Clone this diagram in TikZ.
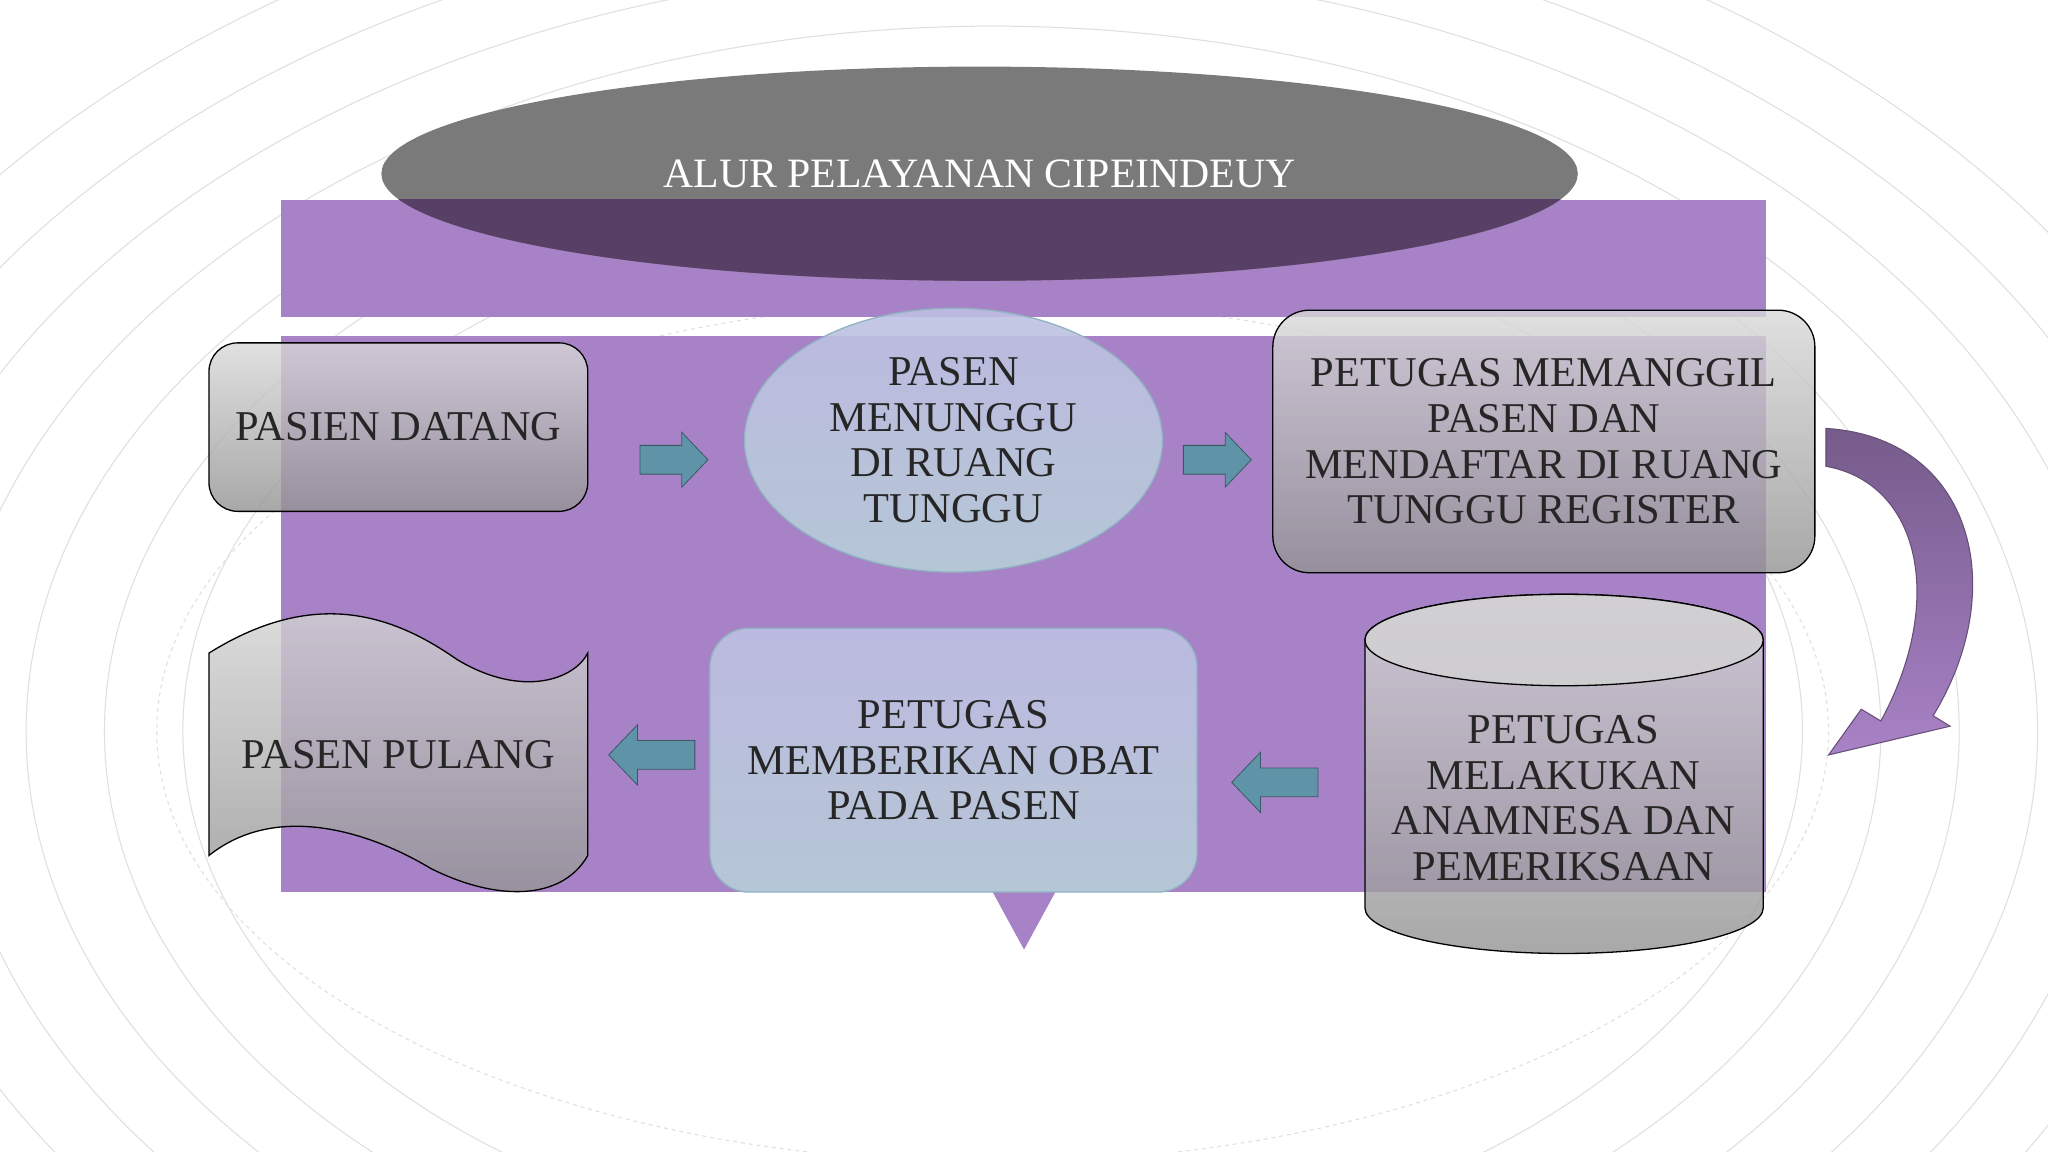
\documentclass[tikz,border=0pt]{standalone}
\usepackage{fontspec}
\setmainfont{Liberation Serif}
\usetikzlibrary{shapes.geometric}
\definecolor{purp}{HTML}{A882C6}
\definecolor{steel}{HTML}{5F93A8}
\definecolor{lav}{HTML}{B7B9E0}
\definecolor{dpurp}{HTML}{583F66}
\tikzset{
 txt/.style={font=\fontsize{32.5}{35}\selectfont,align=center,text=black!85},
 graybox/.style={draw=black,line width=1pt,top color=gray!30,bottom color=gray!85,fill opacity=0.8,text opacity=1},
 bluebox/.style={draw=steel!70,line width=1pt,top color=lav!90,bottom color=steel!45,fill opacity=0.9,text opacity=1},
 barrow/.style={fill=steel,draw=steel!60!black,line width=0.6pt},
 bgline/.style={gray!25,line width=0.8pt}
}
\newcommand{\rarrow}[2]{\path[barrow] (#1,#2) ++(-26,-11) -- ++(32,0) -- ++(0,-10) -- ++(20,21) -- ++(-20,21) -- ++(0,-10) -- ++(-32,0) -- cycle;}
\newcommand{\larrow}[2]{\path[barrow] (#1,#2) ++(33,-11) -- ++(-44,0) -- ++(0,-12) -- ++(-22,23) -- ++(22,23) -- ++(0,-12) -- ++(44,0) -- cycle;}
\begin{document}
\begin{tikzpicture}[x=1pt,y=-1pt]
\useasboundingbox (0,0) rectangle (1568,882);
\fill[white] (0,0) rectangle (1568,882);
\foreach \r in {1,2,...,7}{
 \draw[bgline] (760,560) ellipse ({560+60*\r} and {360+45*\r});
}
\draw[bgline,dashed] (760,560) ellipse (640 and 330);
\fill[purp] (215,153) rectangle (1352,243);
\fill[purp] (215,257) rectangle (1352,683);
\fill[purp] (760,683) -- (808,683) -- (784,727) -- cycle;
\node[ellipse,fill=black!52,minimum width=916pt,minimum height=164pt] (title) at (750,133) {};
\begin{scope}
\clip (215,153) rectangle (1352,243);
\fill[dpurp] (750,133) ellipse (458 and 82);
\end{scope}
\node[font=\fontsize{32}{34}\selectfont,text=white] (tt) at (750,133) {ALUR PELAYANAN CIPEINDEUY};
\node[graybox,rounded corners=22pt,minimum width=290pt,minimum height=129pt,txt] (a) at (305,327) {PASIEN DATANG};
\node[bluebox,ellipse,minimum width=320pt,minimum height=202pt,inner sep=0pt,txt] (b) at (730,337) {PASEN\\MENUNGGU\\DI RUANG\\TUNGGU};
\node[graybox,rounded corners=28pt,minimum width=415pt,minimum height=201pt,txt] (c) at (1182,338) {PETUGAS MEMANGGIL\\PASEN DAN\\MENDAFTAR DI RUANG\\TUNGGU REGISTER};
\path[graybox] (1045,490) -- (1045,695) arc[start angle=180,end angle=0,x radius=152.5,y radius=35] -- (1350,490) arc[start angle=0,end angle=-180,x radius=152.5,y radius=35] -- cycle;
\draw[line width=1pt,fill=gray!35,fill opacity=0.8] (1197.5,490) ellipse (152.5 and 35);
\node[txt] (d) at (1197,611) {PETUGAS\\MELAKUKAN\\ANAMNESA DAN\\PEMERIKSAAN};
\node[bluebox,rounded corners=30pt,minimum width=373pt,minimum height=202pt,txt] (e) at (730,582) {PETUGAS\\MEMBERIKAN OBAT\\PADA PASEN};
\path[graybox] (160,500) .. controls (240,450) and (300,470) .. (350,505) .. controls (400,535) and (440,520) .. (450,500)
 -- (450,655) .. controls (430,690) and (380,690) .. (330,665) .. controls (280,635) and (210,615) .. (160,655) -- cycle;
\node[txt] (f) at (305,578) {PASEN PULANG};
\rarrow{516}{352}
\rarrow{932}{352}
\larrow{976}{599}
\larrow{499}{578}
\path[top color=purp!70!black,bottom color=purp,draw=purp!60!black,line width=0.8pt]
 (1398,328) .. controls (1510,335) and (1540,450) .. (1480,548)
 -- (1493,556) -- (1400,578) -- (1425,543) -- (1440,552)
 .. controls (1490,460) and (1470,370) .. (1398,357) -- cycle;
\end{tikzpicture}
\end{document}
